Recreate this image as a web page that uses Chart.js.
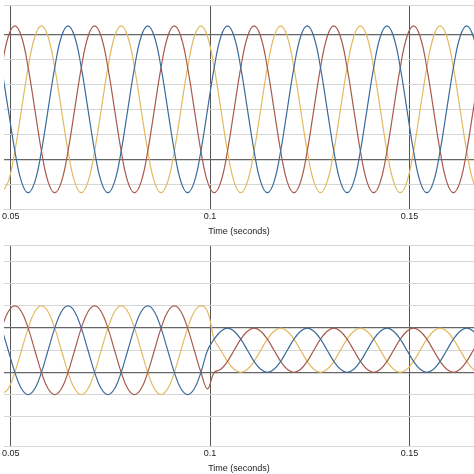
<!DOCTYPE html>
<html>
<head>
<meta charset="utf-8">
<script src="https://cdn.jsdelivr.net/npm/chart.js@4"></script>
<style>
  html, body { margin: 0; padding: 0; background: #fff; }
  .box { position: absolute; left: 0; width: 474px; }
</style>
</head>
<body>
<div class="box" style="top:0;height:237px"><canvas id="chartTop"></canvas></div>
<div class="box" style="top:237px;height:237px"><canvas id="chartBottom"></canvas></div>
<script>
// sample grid: every 1/12 of a 50 Hz cycle
const tStart = 0.0477;
const tStep = 0.0016667;

// top scope: three phases, constant amplitude
const topBlue = [
  .5,0,-.5,-.87,-1,-.87,-.5,0,.5,.87,1,.87,
  .5,0,-.5,-.87,-1,-.87,-.5,0,.5,.87,1,.87,
  .5,0,-.5,-.87,-1,-.87,-.5,0,.5,.87,1,.87,
  .5,0,-.5,-.87,-1,-.87,-.5,0,.5,.87,1,.87,
  .5,0,-.5,-.87,-1,-.87,-.5,0,.5,.87,1,.87,
  .5,0,-.5,-.87,-1,-.87,-.5,0,.5,.87,1,.87, .5
];
const topRed = [
  .5,.87,1,.87,.5,0,-.5,-.87,-1,-.87,-.5,0,
  .5,.87,1,.87,.5,0,-.5,-.87,-1,-.87,-.5,0,
  .5,.87,1,.87,.5,0,-.5,-.87,-1,-.87,-.5,0,
  .5,.87,1,.87,.5,0,-.5,-.87,-1,-.87,-.5,0,
  .5,.87,1,.87,.5,0,-.5,-.87,-1,-.87,-.5,0,
  .5,.87,1,.87,.5,0,-.5,-.87,-1,-.87,-.5,0, .5
];
const topYellow = [
  -1,-.87,-.5,0,.5,.87,1,.87,.5,0,-.5,-.87,
  -1,-.87,-.5,0,.5,.87,1,.87,.5,0,-.5,-.87,
  -1,-.87,-.5,0,.5,.87,1,.87,.5,0,-.5,-.87,
  -1,-.87,-.5,0,.5,.87,1,.87,.5,0,-.5,-.87,
  -1,-.87,-.5,0,.5,.87,1,.87,.5,0,-.5,-.87,
  -1,-.87,-.5,0,.5,.87,1,.87,.5,0,-.5,-.87, -1
];

// bottom scope: amplitude drops at t = 0.1
const botBlue = [
  .5,0,-.5,-.87,-1,-.87,-.5,0,.5,.87,1,.87,
  .5,0,-.5,-.87,-1,-.87,-.5,0,.5,.87,1,.87,
  .5,0,-.5,-.87,-1,-.87,-.5,0,
  .25,.43,
  .5,.43,.25,0,-.25,-.43,-.5,-.43,-.25,0,.25,.43,
  .5,.43,.25,0,-.25,-.43,-.5,-.43,-.25,0,.25,.43,
  .5,.43,.25,0,-.25,-.43,-.5,-.43,-.25,0,.25,.43,
  .5,.43,.25
];
const botRed = [
  .5,.87,1,.87,.5,0,-.5,-.87,-1,-.87,-.5,0,
  .5,.87,1,.87,.5,0,-.5,-.87,-1,-.87,-.5,0,
  .5,.87,1,.87,.5,0,-.5,-.87,
  -.5,-.43,-.25,0,.25,.43,
  .5,.43,.25,0,-.25,-.43,-.5,-.43,-.25,0,.25,.43,
  .5,.43,.25,0,-.25,-.43,-.5,-.43,-.25,0,.25,.43,
  .5,.43,.25,0,-.25,-.43,-.5,-.43,-.25,0,.25
];
const botYellow = [
  -1,-.87,-.5,0,.5,.87,1,.87,.5,0,-.5,-.87,
  -1,-.87,-.5,0,.5,.87,1,.87,.5,0,-.5,-.87,
  -1,-.87,-.5,0,.5,.87,1,.87,
  .25,0,-.25,-.43,-.5,-.43,-.25,0,.25,.43,
  .5,.43,.25,0,-.25,-.43,-.5,-.43,-.25,0,.25,.43,
  .5,.43,.25,0,-.25,-.43,-.5,-.43,-.25,0,.25,.43,
  .5,.43,.25,0,-.25,-.43,-.5
];

const xTicks = [0.05, 0.1, 0.15];
const xTickText = ['0.05', '0.1', '0.15'];
const xTitle = 'Time (seconds)';

const colBlue = '#3c6c9c';
const colRed = '#a85a4c';
const colYellow = '#e2ba62';

function toPoints(vals) {
    return vals.map((v, i) => ({ x: tStart + i * tStep, y: v }));
}

function makeScope(id, series, yMin, yMax, yStep, darkLines, padTop) {
    const ctx = document.getElementById(id).getContext('2d');
    return new Chart(ctx, {
        type: 'line',
        data: {
            datasets: series.map(s => ({
                data: toPoints(s.vals),
                borderColor: s.color,
                borderWidth: 1.2,
                pointRadius: 0,
                tension: 0.4,
                fill: false
            }))
        },
        options: {
            responsive: true,
            maintainAspectRatio: false,
            animation: false,
            layout: { padding: { top: padTop, left: 0, right: 0, bottom: 0 } },
            plugins: { legend: { display: false }, tooltip: { enabled: false } },
            scales: {
                x: {
                    type: 'linear',
                    min: 0.0483,
                    max: 0.1662,
                    afterBuildTicks: axis => { axis.ticks = xTicks.map(v => ({ value: v })); },
                    ticks: {
                        color: '#222',
                        font: { family: 'Liberation Sans', size: 9 },
                        padding: 2,
                        callback: (v) => xTickText[xTicks.indexOf(v)] || ''
                    },
                    grid: { color: '#555', lineWidth: 1, drawTicks: false },
                    border: { display: false },
                    title: {
                        display: true, text: xTitle, color: '#222',
                        font: { family: 'Liberation Sans', size: 9 }, padding: { top: 2, bottom: 0 }
                    }
                },
                y: {
                    min: yMin,
                    max: yMax,
                    ticks: { display: false, stepSize: yStep },
                    grid: {
                        drawTicks: false,
                        color: c => darkLines.some(d => Math.abs(c.tick.value - d) < 1e-6) ? '#666' : '#d6d6d6',
                        lineWidth: c => darkLines.some(d => Math.abs(c.tick.value - d) < 1e-6) ? 1.2 : 1
                    },
                    border: { display: false }
                }
            }
        }
    });
}

makeScope('chartTop', [
    { vals: topBlue, color: colBlue },
    { vals: topRed, color: colRed },
    { vals: topYellow, color: colYellow }
], -1.2, 1.25, 0.3, [0.9, -0.6], 5);

makeScope('chartBottom', [
    { vals: botBlue, color: colBlue },
    { vals: botRed, color: colRed },
    { vals: botYellow, color: colYellow }
], -2.17, 2.375, 0.5, [0.5, -0.5], 8);
</script>
</body>
</html>
